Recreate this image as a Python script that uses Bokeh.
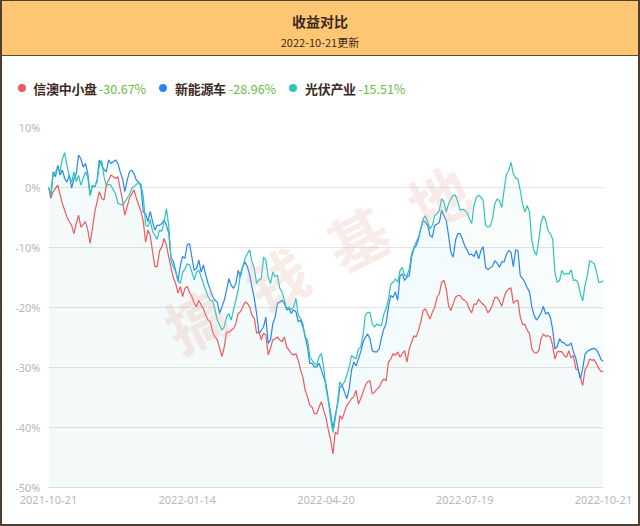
from bokeh.plotting import figure
from bokeh.models import Range1d, FixedTicker, PrintfTickFormatter, Label, Div
from bokeh.layouts import column
from bokeh.embed import file_html
from bokeh.resources import INLINE

# ---------------- data ----------------
title_text = "收益对比"
subtitle_text = "2022-10-21更新"
series_names = ["信澳中小盘", "新能源车", "光伏产业"]
series_colors = ["#ef5a5e", "#2a86ec", "#2ec4b8"]
x_tick_pos = [0, 60, 120, 180, 240]
x_tick_labels = ["2021-10-21", "2022-01-14", "2022-04-20", "2022-07-19", "2022-10-21"]
y_ticks = [-50, -40, -30, -20, -10, 0, 10]
watermark_chars = ["搞", "钱", "基", "地"]

xinao_days = [0, 1, 2, 4, 6, 7, 8, 9, 10, 11, 12, 13, 14, 16, 17, 18, 19, 20, 21, 22, 23, 24, 25, 26, 27, 29, 30,
              31, 32, 33, 34, 35, 37, 38, 40, 41, 42, 43, 44, 45, 46, 47, 48, 49, 50, 51, 52, 54, 55, 56, 57, 58,
              59] + list(range(60, 241))
xinao_ret = [0.0, -1.8, -0.7, 0.4, -2.7, -3.8, -4.9, -5.7, -6.3, -7.7, -6.0, -4.6, -6.6, -5.7, -7.1, -9.3, -6.8,
             -4.1, -2.4, -0.7, -1.8, -2.1, 0.4, 1.2, 2.1, 1.5, 1.8, -0.2, -2.1, -4.6, -3.2, -1.8, -0.4, -1.8, -4.0,
             -5.7, -9.1, -7.1, -8.0, -10.7, -13.2, -13.2, -10.6, -9.9, -8.5, -9.6, -11.6, -15.1, -16.0, -17.6,
             -16.5, -18.2, -16.8,
             -16.5, -17.5, -18.2, -19.3, -19.9, -18.8, -19.6, -20.2, -21.3, -22.1,
             -22.4, -24.1, -24.9, -25.4, -26.8, -28.2, -26.6, -24.1, -24.1, -23.8,
             -23.5, -22.7, -21.0, -20.7, -19.9, -19.1, -19.3, -19.9, -21.3, -21.8,
             -24.3, -24.0, -25.4, -24.3, -24.6, -27.9, -26.8, -25.4, -25.2, -24.9,
             -25.4, -25.7, -24.9, -26.6, -27.1, -27.7, -27.9, -27.7, -28.8, -30.4,
             -31.6, -33.8, -34.9, -36.3, -36.6, -37.7, -37.7, -36.6, -35.7, -37.1,
             -38.4, -40.4, -42.0, -44.4, -40.8, -41.1, -38.0, -38.6, -37.4, -36.3,
             -35.8, -35.2, -34.9, -33.8, -36.1, -35.2, -34.1, -33.0, -32.4, -32.2,
             -34.4, -34.1, -33.6, -33.3, -32.4, -31.9, -32.2, -29.1, -28.6, -27.7,
             -28.0, -27.4, -28.3, -27.7, -27.2, -29.1, -26.9, -25.8, -24.7, -24.9,
             -23.8, -22.4, -20.5, -20.2, -21.1, -21.9, -20.8, -20.0, -18.3, -17.7,
             -15.8, -15.5, -16.9, -19.7, -20.5, -19.4, -18.3, -18.0, -18.0, -18.6,
             -18.8, -19.2, -20.3, -20.9, -19.4, -19.5, -18.6, -19.1, -19.5, -19.9,
             -20.9, -20.4, -19.5, -18.3, -18.3, -18.9, -19.8, -18.3, -17.3, -16.9,
             -16.7, -19.3, -18.9, -18.8, -21.6, -22.8, -22.8, -23.8, -24.3, -26.9,
             -27.5, -27.6, -27.2, -25.2, -24.4, -24.8, -24.7, -24.9, -26.3, -28.6,
             -27.4, -27.3, -27.4, -28.0, -28.3, -27.2, -28.4, -28.0, -30.2, -30.4,
             -31.6, -33.0, -30.4, -29.7, -28.6, -28.8, -28.7, -29.4, -30.2, -30.7,
             -30.67]

ev_days = list(range(0, 241))
ev_ret = [0.0, -1.3, 2.6, 1.8, 3.7, 2.1, 2.9, 1.5, 0.9, 2.1,
          -0.1, 1.5, 2.3, 5.4, 4.8, 3.4, 4.0, 2.3, -1.3, 0.4,
          0.1, 1.2, 4.6, 3.7, 3.0, 2.6, 4.6, 4.0, 4.3, 4.6,
          4.0, 2.6, 1.5, -0.7, 1.2, 2.6, 2.9, 2.3, 1.2, 0.9,
          0.1, -4.1, -4.4, -5.7, -4.0, -5.7, -7.1, -6.3, -6.3, -6.0,
          -5.4, -6.3, -7.6, -11.7, -12.3, -13.9, -15.7, -13.0, -11.5, -11.8,
          -9.5, -9.4, -11.6, -13.8, -13.5, -12.1, -14.1, -12.9, -14.6, -16.0,
          -17.1, -18.2, -18.8, -19.1, -21.0, -19.9, -18.8, -17.1, -15.2, -16.3,
          -16.8, -16.0, -13.8, -14.9, -13.2, -12.4, -13.2, -14.6, -16.6, -18.5,
          -21.0, -24.3, -23.8, -23.2, -21.6, -26.0, -25.4, -22.7, -21.6, -19.3,
          -19.1, -18.8, -19.3, -20.4, -20.2, -21.0, -20.4, -20.7, -22.4, -22.1,
          -23.2, -24.9, -26.6, -29.3, -29.3, -29.9, -29.9, -29.3, -30.4, -31.6,
          -32.8, -35.3, -37.6, -40.2, -38.0, -36.1, -33.3, -33.0, -34.1, -35.2,
          -33.6, -30.5, -29.1, -29.7, -28.6, -27.4, -25.8, -25.0, -24.4, -25.2,
          -27.2, -27.4, -27.4, -26.9, -25.0, -23.6, -22.7, -19.9, -18.0, -18.3,
          -17.4, -18.8, -14.7, -14.4, -15.5, -14.9, -14.7, -11.6, -10.2, -9.7,
          -8.6, -6.9, -5.5, -5.8, -6.3, -8.0, -8.3, -6.3, -6.1, -5.8,
          -3.8, -4.7, -5.5, -8.0, -10.8, -11.6, -8.8, -7.7, -7.7, -8.6,
          -9.7, -10.4, -11.2, -11.1, -11.5, -10.5, -11.9, -10.5, -9.9, -13.3,
          -13.7, -13.4, -13.1, -12.2, -12.6, -13.3, -12.4, -12.4, -11.2, -10.5,
          -10.8, -13.2, -10.4, -10.5, -14.7, -15.2, -15.8, -16.7, -17.4, -19.9,
          -21.3, -22.1, -21.6, -20.9, -19.8, -21.1, -20.8, -21.6, -23.6, -26.9,
          -26.5, -25.2, -25.8, -25.9, -26.3, -26.3, -25.9, -27.4, -28.4, -30.2,
          -31.9, -30.2, -27.8, -27.3, -27.1, -26.9, -26.8, -27.1, -27.8, -28.7,
          -28.96]

pv_days = list(range(0, 241))
pv_ret = [0.0, -1.3, 2.1, 2.6, 3.2, 2.6, 4.8, 5.8, 3.7, 1.8,
          0.9, 2.6, 1.0, 2.0, 0.4, 1.5, 2.6, 1.7, -1.3, 0.4,
          0.1, 1.0, 3.7, 4.5, 1.8, 0.3, 0.5, 0.4, -0.4, -1.0,
          -2.6, -2.8, -2.9, -2.4, -1.8, -1.2, -0.2, 0.2, 0.5, 0.9,
          0.5, -1.5, -6.3, -6.5, -5.4, -7.3, -8.0, -8.6, -7.1, -7.3,
          -5.7, -3.5, -6.4, -12.2, -13.3, -14.0, -15.4, -16.0, -14.1, -13.6,
          -12.7, -12.9, -14.1, -15.4, -14.1, -13.8, -14.9, -16.0, -17.1, -18.2,
          -18.8, -18.8, -20.4, -22.1, -22.9, -23.8, -23.2, -21.6, -21.0, -22.1,
          -20.4, -18.8, -17.1, -14.3, -13.2, -11.8, -11.0, -10.4, -12.4, -13.5,
          -16.0, -15.4, -15.2, -11.6, -12.1, -14.9, -16.0, -14.1, -14.9, -14.6,
          -16.8, -17.4, -18.8, -20.2, -19.9, -20.4, -19.9, -18.5, -21.3, -21.8,
          -22.7, -24.9, -25.4, -28.2, -28.8, -29.3, -29.6, -28.2, -27.7, -29.9,
          -33.5, -35.5, -38.5, -40.8, -38.6, -35.8, -32.4, -33.0, -32.4, -31.3,
          -30.0, -28.0, -28.3, -28.6, -26.9, -26.6, -24.7, -21.3, -20.8, -20.8,
          -22.7, -23.3, -22.7, -23.0, -23.0, -21.1, -20.2, -18.6, -16.1, -15.8,
          -15.2, -15.8, -13.8, -13.3, -14.7, -14.7, -13.6, -11.1, -10.0, -9.1,
          -8.3, -6.9, -5.2, -4.7, -5.8, -6.9, -6.3, -4.7, -4.4, -3.8,
          -1.9, -2.4, -4.1, -2.7, -1.9, -1.3, -1.3, -2.4, -3.8, -3.6,
          -3.8, -4.2, -5.2, -6.0, -3.0, -1.6, -1.3, -1.6, -2.2, -6.3,
          -6.6, -6.5, -5.2, -2.7, -1.9, -2.2, -3.3, -0.5, 2.2, 2.8,
          4.2, 2.3, 1.6, 1.4, -0.5, -2.7, -4.1, -3.0, -4.1, -8.8,
          -10.6, -11.3, -8.8, -5.8, -4.7, -5.4, -7.2, -7.7, -8.6, -14.1,
          -15.8, -15.5, -13.8, -14.5, -14.3, -14.4, -13.7, -15.5, -15.4, -15.9,
          -17.7, -18.9, -16.3, -14.7, -12.2, -12.4, -12.7, -14.1, -15.8, -15.8,
          -15.51]

all_days = [xinao_days, ev_days, pv_days]
all_rets = [xinao_ret, ev_ret, pv_ret]

CJK_NAME = "Noto Sans CJK SC"
DARK = "#3b2a1e"
GREEN = "#67bd45"
FRAME = "#4e3f34"

# ---------------- header (title + legend) as HTML ----------------
legend_dot_left = [15.7, 157.3, 286.7]
legend_name_left = [31.3, 173.0, 303.0]
legend_val_left = [97.0, 227.0, 356.3]

parts = [
    '<div style="position:relative;width:636px;height:110px;background:#ffffff;'
    'font-family:\'%s\';overflow:hidden;">' % CJK_NAME,
    '<div style="position:absolute;left:0;top:0;width:636px;height:54.5px;background:#FFC774;'
    'border-bottom:1.5px solid #5a4636;"></div>',
    '<div style="position:absolute;left:0;top:10.8px;width:636px;text-align:center;font-size:14px;'
    'font-weight:bold;line-height:18px;color:%s;white-space:nowrap;">%s</div>' % (DARK, title_text),
    '<div style="position:absolute;left:0;top:34.3px;width:636px;text-align:center;font-size:11px;'
    'line-height:14px;color:%s;white-space:nowrap;">%s</div>' % (DARK, subtitle_text),
]
for i in range(3):
    parts.append('<div style="position:absolute;left:%.1fpx;top:83.3px;width:8px;height:8px;'
                 'border-radius:4px;background:%s;"></div>' % (legend_dot_left[i], series_colors[i]))
    parts.append('<div style="position:absolute;left:%.1fpx;top:79px;font-size:13px;font-weight:bold;'
                 'letter-spacing:-0.3px;line-height:18px;color:%s;white-space:nowrap;">%s</div>'
                 % (legend_name_left[i], DARK, series_names[i]))
    parts.append('<div style="position:absolute;left:%.1fpx;top:79px;font-size:12.5px;'
                 'line-height:18px;color:%s;white-space:nowrap;">%.2f%%</div>'
                 % (legend_val_left[i], GREEN, all_rets[i][-1]))
parts.append('</div>')
head = Div(text="".join(parts), width=636, height=109, margin=(1, 2, 0, 2))

# ---------------- main chart ----------------
p = figure(width=636, height=414, x_range=Range1d(0, 240), y_range=Range1d(-50, 10),
           toolbar_location=None, output_backend="svg",
           min_border_left=46, min_border_right=35, min_border_top=17, min_border_bottom=37,
           margin=(0, 2, 2, 2))
p.outline_line_color = None
p.outline_line_alpha = 0
p.background_fill_color = "#ffffff"
p.border_fill_color = "#ffffff"

fill_alphas = [0.012, 0.018, 0.035]
for d, r, c, a in zip(all_days, all_rets, series_colors, fill_alphas):
    p.varea(x=d, y1=r, y2=-50, fill_color=c, fill_alpha=a)

# watermark: one character per label, placed along a rising diagonal (frame pixels)
wm_start = (147.0, 169.0)
wm_step = (80.7, 41.0)
for j, ch in enumerate(watermark_chars):
    p.add_layout(Label(x=wm_start[0] + j * wm_step[0], y=wm_start[1] + j * wm_step[1],
                       x_units="screen", y_units="screen", text=ch,
                       angle=0.47, text_align="center", text_baseline="middle",
                       text_font=CJK_NAME, text_font_style="bold", text_font_size="60px",
                       text_color="#e4b0a4", text_alpha=0.25))

for d, r, c in zip(all_days, all_rets, series_colors):
    p.line(x=d, y=r, line_color=c, line_width=1.2)

p.xgrid.visible = False
p.ygrid.ticker = FixedTicker(ticks=y_ticks)
p.ygrid.grid_line_color = "#e3e3e3"

p.xaxis.ticker = FixedTicker(ticks=x_tick_pos)
p.xaxis.major_label_overrides = {t: l for t, l in zip(x_tick_pos, x_tick_labels)}
p.yaxis.ticker = FixedTicker(ticks=y_ticks)
p.yaxis.formatter = PrintfTickFormatter(format="%d%%")
for ax in (p.xaxis[0], p.yaxis[0]):
    ax.major_tick_line_color = None
    ax.minor_tick_line_color = None
    ax.major_tick_out = 0
    ax.major_tick_in = 0
    ax.minor_tick_out = 0
    ax.major_label_text_font = "Noto Sans"
    ax.major_label_text_font_size = "11px"
    ax.major_label_text_color = "#b8b8b8"
    ax.major_label_standoff = 8
p.xaxis.axis_line_color = "#dcdcdc"
p.yaxis.axis_line_color = None

layout = column(head, p, spacing=0,
                styles={"background-color": "#ffffff",
                        "box-shadow": "inset 0 0 0 2px %s" % FRAME})

open("out.html", "w").write(file_html(layout, INLINE))
